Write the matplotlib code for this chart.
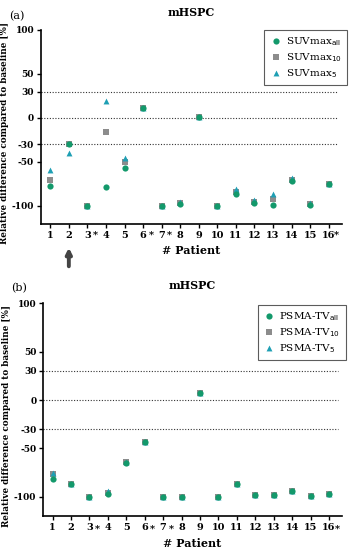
import matplotlib
matplotlib.use('Agg')
import matplotlib.pyplot as plt
import matplotlib.transforms as mtransforms

############################################### Data ###################################################################
patients = list(range(1, 17))
starred = [3, 6, 7, 16]
yticks = [100, 50, 30, 0, -30, -50, -100]
reflines = [30, 0, -30]

# panel (a): SUVmax
suv_all = [-77, -30, -100, -79, -56.5, 11, -100, -97.5, 1.5, -100, -86, -96.5, -98.5, -71.5, -99, -75.5]
suv_10 = [-70, -30, -100, -16.5, -49.5, 11, -100, -97, 1.5, -100, -84, -95.5, -92.5, -71, -98, -75.5]
suv_5 = [-59.5, -40, -100, 19.5, -45, 11, -100, -95, 1.5, -100, -81, -93.5, -86, -68, -97, -75.5]

# panel (b): PSMA-TV
tv_all = [-82, -86.5, -100, -97.5, -65.5, -43.5, -100, -100, 7, -100, -87, -98.5, -98.5, -94.5, -99, -97.5]
tv_10 = [-77, -86.5, -100, -96, -64.5, -43.5, -100, -100, 7, -100, -87, -98.5, -98.5, -94.5, -99, -97.5]
tv_5 = [-75.5, -86.5, -100, -94.5, -64.5, -43.5, -100, -100, 7, -100, -87, -98.5, -98.5, -94.5, -99, -97.5]

############################################### Style ##################################################################
c_all = '#13996b'
c_10 = '#8c8c8c'
c_5 = '#1e9fb4'
plt.rcParams['font.family'] = ['DejaVu Serif']

fig = plt.figure(figsize=(3.58, 5.5), dpi=100)


def panel(rect, s_all, s_10, s_5, names, tag, legend_rect, arrow=False):
    ax = fig.add_axes(rect)
    for r in reflines:
        ax.plot([0.5, 16.5], [r, r], ls=(0, (1, 1.5)), color='#333333', lw=0.8, zorder=1)
    ax.scatter(patients, s_10, marker='s', s=16, color=c_10, label=names[1], zorder=3, linewidths=0)
    ax.scatter(patients, s_5, marker='^', s=18, color=c_5, label=names[2], zorder=4, linewidths=0)
    ax.scatter(patients, s_all, marker='o', s=20, color=c_all, label=names[0], zorder=5, linewidths=0)

    ax.set_xlim(0.5, 16.7)
    ax.set_ylim(-120, 100)
    ax.set_yticks(yticks)
    ax.set_yticklabels([str(v) for v in yticks], fontweight='bold', fontsize=6.5)
    ax.set_xticks(patients)
    ax.set_xticklabels([str(p) for p in patients], fontweight='bold', fontsize=7)
    ax.tick_params(axis='both', length=3, width=1, pad=2, color='black')
    for side in ['top', 'right']:
        ax.spines[side].set_visible(False)
    for side in ['left', 'bottom']:
        ax.spines[side].set_linewidth(1.2)
    ax.spines['left'].set_bounds(-120, 100)

    trans = mtransforms.blended_transform_factory(ax.transData, ax.transAxes)
    for p in starred:
        ax.text(p + 0.3, -0.06, '*', transform=trans, fontsize=7, fontweight='bold', va='center', ha='left')

    ax.set_xlabel('# Patient', fontweight='bold', fontsize=8, labelpad=4)
    ax.set_ylabel('Relative difference compared to baseline [%]', fontweight='bold', fontsize=6.3)
    ax.yaxis.set_label_coords(-0.108, 0.47)
    ax.set_title('mHSPC', fontweight='bold', fontsize=8, pad=10)
    ax.text(-0.08, 1.07, tag, transform=ax.transAxes, fontsize=8, ha='center', va='center')

    handles, labels = ax.get_legend_handles_labels()
    order = [2, 0, 1]
    leg = fig.legend([handles[i] for i in order], [labels[i] for i in order],
                     bbox_to_anchor=legend_rect, loc='upper right', fontsize=7.5, frameon=True,
                     fancybox=False, edgecolor='#333333', handletextpad=0.4, borderpad=0.5,
                     labelspacing=0.3, handlelength=1.2)
    leg.get_frame().set_linewidth(0.8)

    if arrow:
        ax.annotate('', xy=(2, -0.11), xycoords=trans, xytext=(2, -0.235), textcoords=trans,
                    arrowprops=dict(arrowstyle='-|>', color='#444444', lw=2.8, mutation_scale=8),
                    annotation_clip=False)
    return ax


panel([0.1145, 0.5935, 0.84, 0.352], suv_all, suv_10, suv_5,
      [r'SUVmax$_{\mathrm{all}}$', r'SUVmax$_{10}$', r'SUVmax$_{5}$'], '(a)', (0.985, 0.955), arrow=True)
panel([0.121, 0.0618, 0.834, 0.3867], tv_all, tv_10, tv_5,
      [r'PSMA-TV$_{\mathrm{all}}$', r'PSMA-TV$_{10}$', r'PSMA-TV$_{5}$'], '(b)', (0.98, 0.455))

fig.savefig('out.png', dpi=100)
